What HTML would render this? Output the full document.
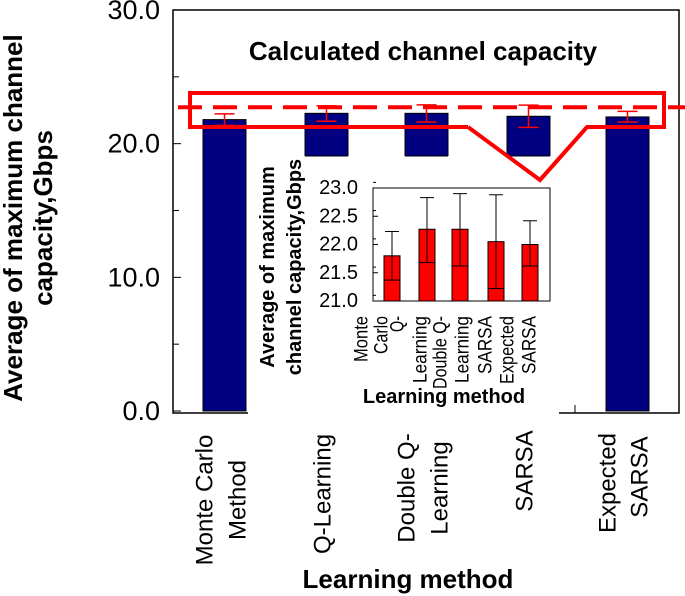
<!DOCTYPE html>
<html><head><meta charset="utf-8"><style>
body{margin:0;background:#fff}
svg{display:block;font-family:"Liberation Sans",Arial,sans-serif}
</style></head><body>
<svg id="c" width="685" height="596" viewBox="0 0 685 596"></svg>
<script>
const categories=["Monte Carlo Method","Q-Learning","Double Q-Learning","SARSA","Expected SARSA"];
const values=[21.8,22.27,22.27,22.05,22.0];
const errLow=[21.37,21.68,21.62,21.22,21.62];
const errHigh=[22.23,22.83,22.9,22.88,22.42];
const mainTicks=[0,10,20,30];
const mainTickLabels=["0.0","10.0","20.0","30.0"];
const insetTicks=[21.0,21.5,22.0,22.5,23.0];
const insetTickLabels=["21.0","21.5","22.0","22.5","23.0"];
const refLine=[22.8];

const NS="http://www.w3.org/2000/svg";
const svg=document.getElementById('c');
function mk(tag,attrs,parent,txt){const e=document.createElementNS(NS,tag);for(const k in attrs)e.setAttribute(k,attrs[k]);if(txt!==undefined)e.textContent=txt;(parent||svg).appendChild(e);return e;}
const y=v=>411-v*(401/30);
const mainBarX=[203,305,405,507,606];
const BW=43;
const yi=v=>301-(v-21)*(113/2);
const insetBarX=[384,419,452,488,522];
const IBW=16;

let e;
e=mk('rect',{x:173,y:10,width:506,height:403,fill:'none',stroke:'#000','stroke-width':1.5});

mainTicks.forEach((t,i)=>{
 e=mk('line',{x1:173,x2:181,y1:y(t),y2:y(t),stroke:'#000'});
 
 e=mk('text',{x:160,y:y(t),'text-anchor':'end','dominant-baseline':'central','font-size':27},svg,mainTickLabels[i]);
 
});
[5,15,25].forEach(t=>{mk('line',{x1:173,x2:179,y1:y(t),y2:y(t),stroke:'#000'});});
values.forEach((v,i)=>{
 e=mk('rect',{x:mainBarX[i],y:y(v),width:BW,height:y(0)-y(v),fill:'#000080',stroke:'#000'});
 
});
e=mk('rect',{x:248,y:156,width:311,height:260,fill:'#fff'});

[1,2,3].forEach(i=>{mk('line',{x1:mainBarX[i],x2:mainBarX[i]+BW,y1:156,y2:156,stroke:'#000'});});
mk('line',{x1:575,x2:575,y1:413,y2:405,stroke:'#000'});
values.forEach((v,i)=>{
 const cx=mainBarX[i]+BW/2;
 e=mk('g',{stroke:'#f00','stroke-width':1.5});
 
 mk('line',{x1:cx,x2:cx,y1:y(errHigh[i]),y2:y(errLow[i])},e);
 mk('line',{x1:cx-10,x2:cx+10,y1:y(errHigh[i]),y2:y(errHigh[i])},e);
 mk('line',{x1:cx-10,x2:cx+10,y1:y(errLow[i]),y2:y(errLow[i])},e);
});
e=mk('line',{x1:178,x2:685,y1:y(refLine[0])+1,y2:y(refLine[0])+1,stroke:'#f00','stroke-width':4,'stroke-dasharray':'24,11'});

e=mk('polyline',{points:'468,127 190,127 190,93 664,93 664,127 587,127 540,180 468,127',fill:'none',stroke:'#f00','stroke-width':4});

e=mk('text',{x:423,y:60,'text-anchor':'middle','font-size':26,'font-weight':'bold'},svg,'Calculated channel capacity');

e=mk('text',{transform:'translate(13,218) rotate(-90)','text-anchor':'middle','dominant-baseline':'central','font-size':26,'font-weight':'bold'},svg,'Average of maximum channel');

mk('text',{transform:'translate(43,218) rotate(-90)','text-anchor':'middle','dominant-baseline':'central','font-size':26,'font-weight':'bold'},svg,'capacity,Gbps');
const xl=[[["Monte Carlo",205,500],["Method",238,500]],[["Q-Learning",323,494]],[["Double Q-",407,488],["Learning",440,488]],[["SARSA",525,471]],[["Expected",608,483],["SARSA",640,477]]];
xl.forEach(ls=>ls.forEach(([t,x,cy])=>{
 e=mk('text',{transform:`translate(${x},${cy}) rotate(-90)`,'text-anchor':'middle','dominant-baseline':'central','font-size':24},svg,t);
 
}));
e=mk('text',{x:408,y:588,'text-anchor':'middle','font-size':26,'font-weight':'bold'},svg,'Learning method');

const ig=mk('g',{});

values.forEach((v,i)=>{
 e=mk('rect',{x:insetBarX[i],y:yi(v),width:IBW,height:yi(21)-yi(v),fill:'#f00',stroke:'#000'},ig);
 
 const cx=insetBarX[i]+IBW/2;
 e=mk('g',{stroke:'#000','stroke-width':1},ig);
 
 mk('line',{x1:cx,x2:cx,y1:yi(errHigh[i]),y2:yi(errLow[i])},e);
 mk('line',{x1:cx-7,x2:cx+7,y1:yi(errHigh[i]),y2:yi(errHigh[i])},e);
 mk('line',{x1:insetBarX[i],x2:insetBarX[i]+IBW,y1:yi(errLow[i]),y2:yi(errLow[i])},e);
});
mk('rect',{x:373,y:188,width:177,height:113,fill:'none',stroke:'#000'},ig);
insetTicks.forEach((t,i)=>{
 mk('line',{x1:373,x2:378,y1:yi(t),y2:yi(t),stroke:'#000'},ig);
 mk('line',{x1:373,x2:376,y1:yi(t+0.1),y2:yi(t+0.1),stroke:'#000'},ig);
 e=mk('text',{x:358,y:yi(t),'text-anchor':'end','dominant-baseline':'central','font-size':20},ig,insetTickLabels[i]);
 
});
const il=[["Monte",362,46],["Carlo",382,38],["Q-",398,16],["Learning",421,67],["Double Q-",441,73],["Learning",463,67],["SARSA",486,58],["Expected",508,68],["SARSA",530,58]];
il.forEach(([t,x,len])=>{
 e=mk('text',{transform:`translate(${x},316) rotate(-90)`,'text-anchor':'end','dominant-baseline':'central','font-size':19,textLength:len,lengthAdjust:'spacingAndGlyphs'},ig,t);
 
});
e=mk('text',{transform:'translate(268,267) rotate(-90)','text-anchor':'middle','dominant-baseline':'central','font-size':20,'font-weight':'bold'},ig,'Average of maximum');

mk('text',{transform:'translate(295,267) rotate(-90)','text-anchor':'middle','dominant-baseline':'central','font-size':20,'font-weight':'bold'},ig,'channel capacity,Gbps');
e=mk('text',{x:444,y:403,'text-anchor':'middle','font-size':20,'font-weight':'bold'},ig,'Learning method');

</script>
</body></html>
